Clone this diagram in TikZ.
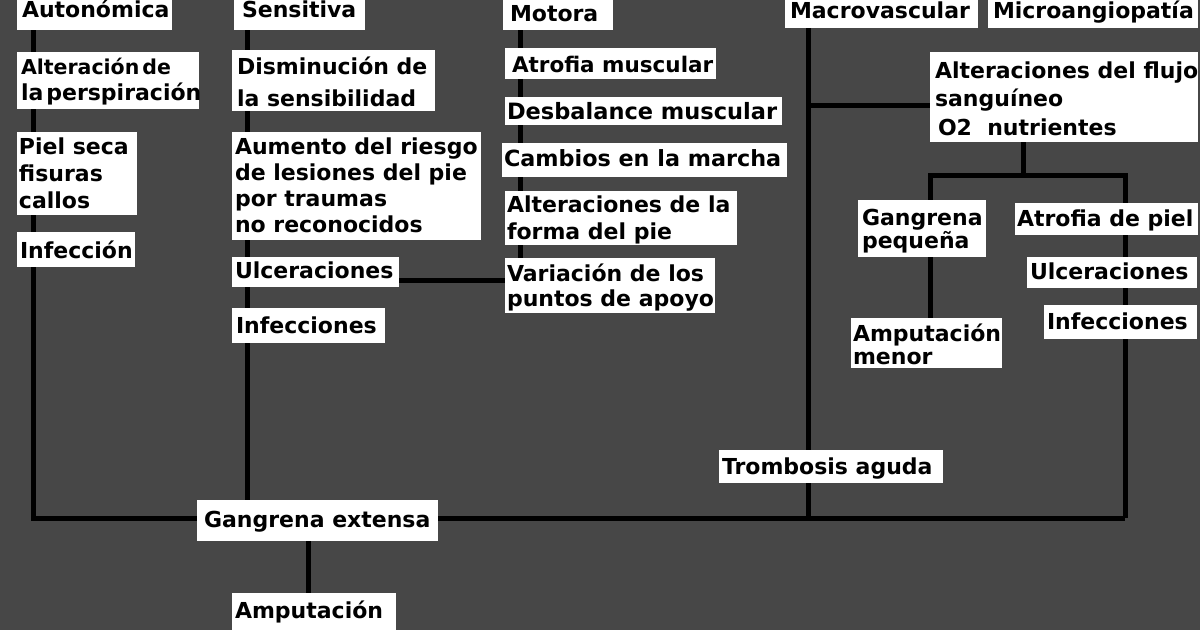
\documentclass[tikz,border=0pt]{standalone}
\usepackage{fontspec}
\setmainfont{DejaVu Sans}
\pgfdeclarelayer{background}
\pgfdeclarelayer{lines}
\pgfsetlayers{background,lines,main}
\definecolor{bgcol}{HTML}{474747}
\tikzset{
  box/.style={fill=white, inner sep=0pt, outer sep=0pt, anchor=north west},
  txt/.style={inner sep=0pt, outer sep=0pt, anchor=north west, align=left,
              font=\bfseries\fontsize{22}{#1}\selectfont},
  ln/.style={draw=black, line width=5pt, line join=miter}
}
% name, x1, y1, x2, y2, textleft, first baseline, line skip, text
\newcommand\bx[9]{%
  \node[box, minimum width={(#4)-(#2)}, minimum height={(#5)-(#3)}] (#1) at (#2,#3) {};
  \node[txt=#8] at (#6,#7-19) {\rule{0pt}{19pt}#9};
}
\begin{document}
\begin{tikzpicture}[x=1pt,y=-1pt]
\useasboundingbox (0,0) rectangle (1200,630);
\clip (0,0) rectangle (1200,630);
\begin{pgfonlayer}{background}
  \fill[bgcol] (0,0) rectangle (1200,630);
\end{pgfonlayer}

% left column: Autonomica
\bx{auto}{17}{-6}{172}{30}{22}{17}{26}{Autonómica}
\bx{persp}{17}{52}{199}{109}{21}{74}{26}{\fontsize{20.5}{26}\selectfont Alteración\hspace{3pt}de\\la\hspace{3pt}perspiración}
\bx{piel}{17}{132}{137}{215}{19}{154}{27}{Piel seca\\fisuras\\callos}
\bx{infc}{17}{232}{135}{267}{20}{258}{26}{Infección}

% Sensitiva
\bx{sens}{234}{-6}{365}{30}{242}{17}{26}{Sensitiva}
\bx{dism}{232}{50}{435}{111}{237}{74}{32}{Disminución de\\la sensibilidad}
\bx{aum}{232}{132}{481}{240}{235}{154}{26}{Aumento del riesgo\\de lesiones del pie\\por traumas\\no reconocidos}
\bx{ulc1}{232}{257}{399}{287}{235}{278}{26}{Ulceraciones}
\bx{inf1}{232}{308}{385}{343}{236}{333}{26}{Infecciones}

% Motora
\bx{mot}{503}{-6}{613}{30}{510}{21}{26}{Motora}
\bx{atm}{505}{48}{716}{79}{512}{72}{26}{\fontsize{21.5}{26}\selectfont Atrofia muscular}
\bx{des}{505}{97}{782}{125}{507}{119}{26}{\fontsize{22.5}{26}\selectfont Desbalance muscular}
\bx{cam}{502}{143}{787}{177}{504}{166}{26}{\fontsize{22.3}{26}\selectfont Cambios en la marcha}
\bx{alt}{505}{191}{737}{245}{507}{212}{27}{Alteraciones de la\\forma del pie}
\bx{var}{505}{258}{715}{313}{507}{281}{25}{Variación de los\\puntos de apoyo}

% Macrovascular / Microangiopatia
\bx{mac}{785}{-6}{978}{28}{790}{18}{26}{Macrovascular}
\bx{mic}{988}{-6}{1198}{28}{993}{18}{26}{Microangiopatía}
\bx{flujo}{930}{52}{1198}{142}{935}{78}{28.5}{Alteraciones del flujo\\sanguíneo\\\hspace{3pt}O2~~nutrientes}
\bx{gp}{858}{200}{986}{257}{862}{225}{23}{Gangrena\\pequeña}
\bx{atp}{1015}{203}{1198}{235}{1017}{226}{26}{Atrofia de piel}
\bx{ulc2}{1027}{257}{1197}{288}{1030}{279}{26}{Ulceraciones}
\bx{inf2}{1044}{305}{1197}{339}{1047}{329}{26}{Infecciones}
\bx{am}{851}{318}{1002}{368}{853}{341}{23}{Amputación\\menor}
\bx{tro}{719}{450}{943}{483}{722}{474}{26}{Trombosis aguda}

% bottom
\bx{gext}{197}{500}{438}{541}{204}{527}{26}{Gangrena extensa}
\bx{amp}{232}{593}{396}{636}{235}{618}{26}{Amputación}

\begin{pgfonlayer}{lines}
  \coordinate (bl) at (33,518);
  \coordinate (br) at (1125,518);
  \coordinate (sx) at (247,0);
  \coordinate (gx) at (308,0);
  \coordinate (uy) at (0,280);
  \coordinate (mx) at (520,0);
  \coordinate (macx) at (808,0);
  \coordinate (fy) at (0,105);
  \coordinate (fx) at (1023,0);
  \coordinate (by) at (0,175);
  \coordinate (gpx) at (930,0);
  \draw[ln] (auto.south -| bl) -- (bl) -- (br);
  \draw[ln] (sens.south -| sx) -- (sx |- gext.north);
  \draw[ln] (gext.south -| gx) -- (amp.north -| gx);
  \draw[ln] (ulc1.east |- uy) -- (var.west |- uy);
  \draw[ln] (mot.south -| mx) -- (var.north -| mx);
  \draw[ln] (mac.south -| macx) -- (macx |- bl);
  \draw[ln] (macx |- fy) -- (flujo.west |- fy);
  \draw[ln] (flujo.south -| fx) -- (fx |- by);
  \draw[ln] (gp.north -| gpx) -- (gpx |- by) -- (br |- by) -- (br);
  \draw[ln] (gp.south -| gpx) -- (am.north -| gpx);
\end{pgfonlayer}
\end{tikzpicture}
\end{document}
